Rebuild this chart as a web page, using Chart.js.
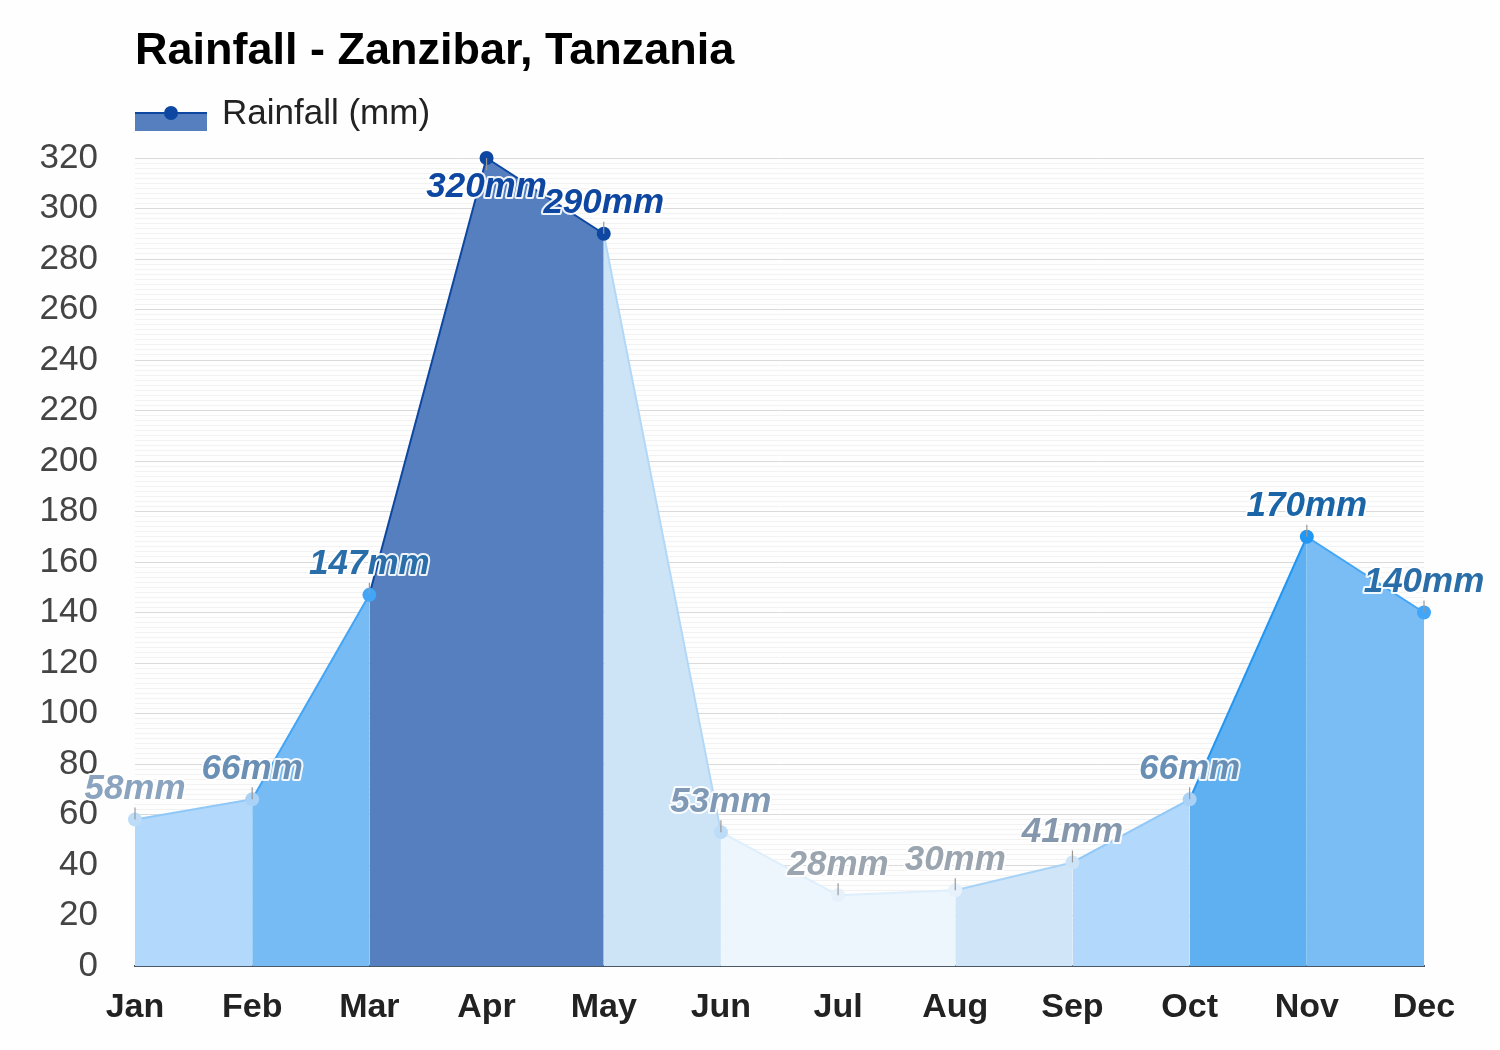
<!DOCTYPE html>
<html>
<head>
<meta charset="utf-8">
<title>Rainfall - Zanzibar, Tanzania</title>
<script src="https://cdn.jsdelivr.net/npm/chart.js@4.4.1/dist/chart.umd.min.js"></script>
<style>
  html, body { margin: 0; padding: 0; background: #fdfefd; }
  #wrap { width: 1500px; height: 1050px; }
</style>
</head>
<body>
<div id="wrap"><canvas id="rainChart" width="1500" height="1050"></canvas></div>
<script>
// data
const months = ['Jan', 'Feb', 'Mar', 'Apr', 'May', 'Jun', 'Jul', 'Aug', 'Sep', 'Oct', 'Nov', 'Dec'];
const rainfall = [58, 66, 147, 320, 290, 53, 28, 30, 41, 66, 170, 140];
const unit = 'mm';
const yMin = 0, yMax = 320, yStep = 2, yLabelStep = 20;

const chartTitle = 'Rainfall - Zanzibar, Tanzania';
const seriesName = 'Rainfall (mm)';

// colours: one per point, and one per segment (segment i runs from month i to i+1)
const pointColors = ['#bcdcf8', '#a9d2f6', '#42a5f5', '#0d47a1', '#0d47a1', '#bcdcf8',
                     '#e6f1fc', '#e6f1fc', '#cde4f8', '#a9d2f6', '#2196f3', '#42a5f5'];
const labelColors = ['#8aa3bf', '#6a8fb5', '#2a6ea9', '#0d47a1', '#0d47a1', '#8099b5',
                     '#9ba5b0', '#9ba5b0', '#8497ad', '#6a8fb5', '#1a65a8', '#2a6ea9'];
const lineColors = ['#90c8f8', '#42a5f5', '#0d47a1', '#0d47a1', '#b3d8f7', '#ddeefc',
                    '#ddeefc', '#a8d3f7', '#90c8f8', '#2196f3', '#42a5f5'];
const fillColors = ['#b2d8fb', '#77bbf5', '#557fbe', '#557fbe', '#cde4f7', '#edf5fd',
                    '#edf5fd', '#d0e6f8', '#b2d8fb', '#5eb0f1', '#7abdf5'];

const FONT = '"Liberation Sans", Arial, sans-serif';

// title + legend, lined up with the plot area
const headerPlugin = {
  id: 'header',
  afterDraw(chart) {
    const { ctx, chartArea } = chart;
    const x = chartArea.left;
    ctx.save();
    ctx.fillStyle = '#000';
    ctx.textAlign = 'left';
    ctx.textBaseline = 'alphabetic';
    ctx.font = 'bold 45px ' + FONT;
    ctx.fillText(chartTitle, x, 64);

    // legend swatch: filled box with line + point on top edge
    ctx.fillStyle = '#557fbe';
    ctx.fillRect(x, 113, 72, 18);
    ctx.strokeStyle = '#0d47a1';
    ctx.lineWidth = 2;
    ctx.beginPath();
    ctx.moveTo(x, 113);
    ctx.lineTo(x + 72, 113);
    ctx.stroke();
    ctx.fillStyle = '#0d47a1';
    ctx.beginPath();
    ctx.arc(x + 36, 113, 7, 0, Math.PI * 2);
    ctx.fill();

    ctx.fillStyle = '#222';
    ctx.font = '35px ' + FONT;
    ctx.fillText(seriesName, x + 87, 124);
    ctx.restore();
  }
};

// value labels with a small leader tick
const valueLabels = {
  id: 'valueLabels',
  afterDatasetsDraw(chart) {
    const { ctx, chartArea } = chart;
    const meta = chart.getDatasetMeta(0);
    ctx.save();
    meta.data.forEach((pt, i) => {
      const below = pt.y - 60 < chartArea.top;
      ctx.strokeStyle = '#999';
      ctx.lineWidth = 1.2;
      ctx.beginPath();
      ctx.moveTo(pt.x, pt.y);
      ctx.lineTo(pt.x, below ? pt.y + 12 : pt.y - 12);
      ctx.stroke();

      const ty = below ? pt.y + 29 : pt.y - 30;
      const txt = rainfall[i] + unit;
      ctx.font = 'italic bold 35px ' + FONT;
      ctx.textAlign = 'center';
      ctx.textBaseline = 'middle';
      ctx.lineJoin = 'round';
      ctx.lineWidth = 4;
      ctx.strokeStyle = 'rgba(255,255,255,0.9)';
      ctx.strokeText(txt, pt.x, ty);
      ctx.fillStyle = labelColors[i];
      ctx.fillText(txt, pt.x, ty);
    });
    ctx.restore();
  }
};

new Chart(document.getElementById('rainChart'), {
  type: 'line',
  data: {
    labels: months,
    datasets: [{
      label: seriesName,
      data: rainfall,
      fill: 'origin',
      tension: 0,
      clip: false,
      borderWidth: 2,
      borderColor: lineColors[0],
      backgroundColor: fillColors[0],
      pointRadius: 7,
      pointHoverRadius: 7,
      pointBorderWidth: 0,
      pointBackgroundColor: pointColors,
      pointBorderColor: pointColors,
      segment: {
        borderColor: c => lineColors[c.p0DataIndex],
        backgroundColor: c => fillColors[c.p0DataIndex]
      }
    }]
  },
  options: {
    responsive: false,
    animation: false,
    layout: { padding: { top: 158, right: 76, bottom: 0, left: 0 } },
    plugins: {
      legend: { display: false },
      title: { display: false },
      tooltip: { enabled: false }
    },
    scales: {
      x: {
        offset: false,
        grid: { display: false, drawTicks: false },
        border: { display: true, color: '#4a5868', width: 2 },
        ticks: {
          color: '#222',
          font: { family: FONT, size: 34, weight: 'bold' },
          padding: 21,
          autoSkip: false,
          maxRotation: 0
        },
        afterFit: s => { s.height = 84; }
      },
      y: {
        min: yMin,
        max: yMax,
        border: { display: false },
        grid: {
          drawTicks: false,
          color: c => (c.tick && c.tick.value % yLabelStep === 0) ? '#dadada' : '#f2f2f2'
        },
        ticks: {
          stepSize: yStep,
          autoSkip: false,
          padding: 37,
          color: '#444',
          font: { family: FONT, size: 35 },
          callback: v => (v % yLabelStep === 0 ? v : '')
        },
        afterFit: s => { s.width = 135; }
      }
    }
  },
  plugins: [headerPlugin, valueLabels]
});
</script>
</body>
</html>
